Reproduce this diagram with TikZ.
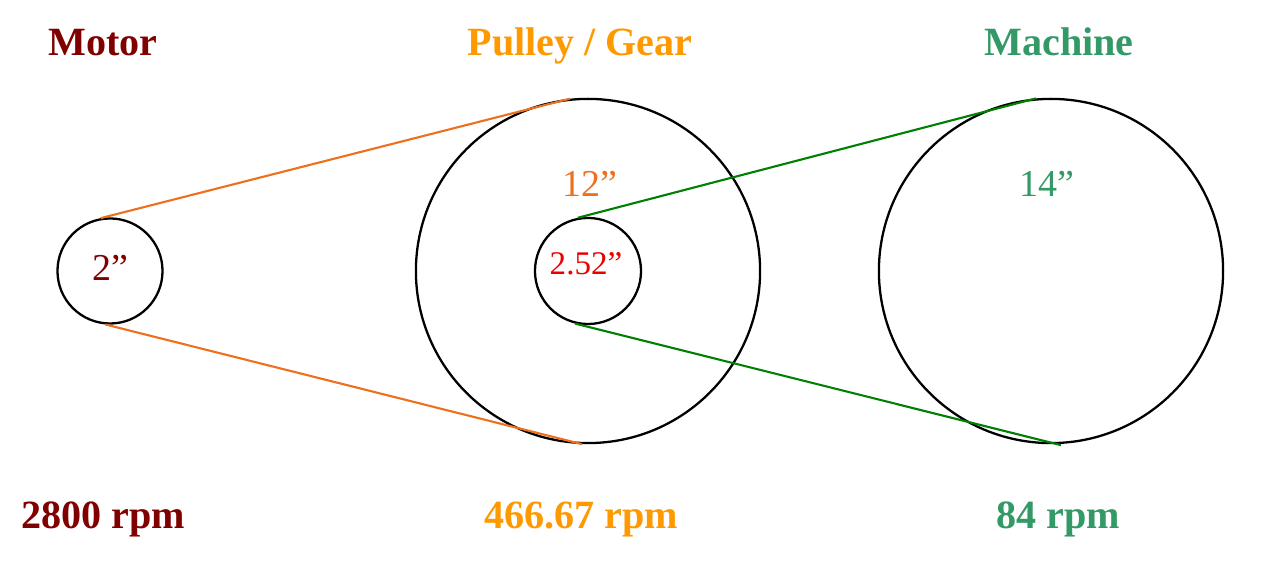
\documentclass[tikz,border=0pt]{standalone}
\usepackage{fontspec}
\setmainfont{Liberation Serif}
\definecolor{motorred}{RGB}{128,0,0}
\definecolor{gearorange}{RGB}{255,153,0}
\definecolor{beltorange}{RGB}{237,112,30}
\definecolor{machinegreen}{RGB}{51,153,102}
\definecolor{beltgreen}{RGB}{0,128,0}
\definecolor{sizered}{RGB}{235,0,0}

\begin{document}
\begin{tikzpicture}[x=0.01cm, y=-0.01cm]

    \useasboundingbox (0,0) rectangle (1272,580);

    \begin{scope}[every node/.style={circle,draw,line width=0.65pt,inner sep=0pt}]
        \node[minimum size=1.05cm] (motor) at (110,271) {};
        \node[minimum size=3.44cm] (pulleyBig) at (588,271) {};
        \node[minimum size=1.06cm] (pulleySmall) at (588,271) {};
        \node[minimum size=3.44cm] (machine) at (1051,271) {};
    \end{scope}

    \begin{scope}[every node/.style={anchor=base,font=\fontsize{11.4}{12}\selectfont\bfseries}]
        % Titles %
        \node[text=motorred] (motorTitle) at (103,56) {Motor};
        \node[text=gearorange] (gearTitle) at (580,56) {Pulley / Gear};
        \node[text=machinegreen] (machineTitle) at (1059,56) {Machine};
        % Speeds %
        \node[text=motorred] (motorRpm) at (103,529) {2800 rpm};
        \node[text=gearorange] (gearRpm) at (581,529) {466.67 rpm};
        \node[text=machinegreen] (machineRpm) at (1058,529) {84 rpm};
    \end{scope}

    \begin{scope}[every node/.style={anchor=base,font=\fontsize{10.8}{12}\selectfont}]
        \node[text=motorred] (motorSize) at (110,281) {2”};
        \node[text=beltorange] (bigSize) at (590,197) {12”};
        \node[text=sizered,font=\fontsize{9.4}{11}\selectfont] (smallSize) at (586,275) {2.52”};
        \node[text=machinegreen] (machineSize) at (1047,197) {14”};
    \end{scope}

    \begin{scope}[line width=0.6pt]
        % Motor belt %
        \draw[beltorange] (motor.100) -- (pulleyBig.96);
        \draw[beltorange] (motor.265) -- (pulleyBig.268);
        % Machine belt %
        \draw[beltgreen] (pulleySmall.101) -- (machine.95);
        \draw[beltgreen, shorten >=-0.04cm] (pulleySmall.256) -- (machine.272);
    \end{scope}

\end{tikzpicture}
\end{document}
